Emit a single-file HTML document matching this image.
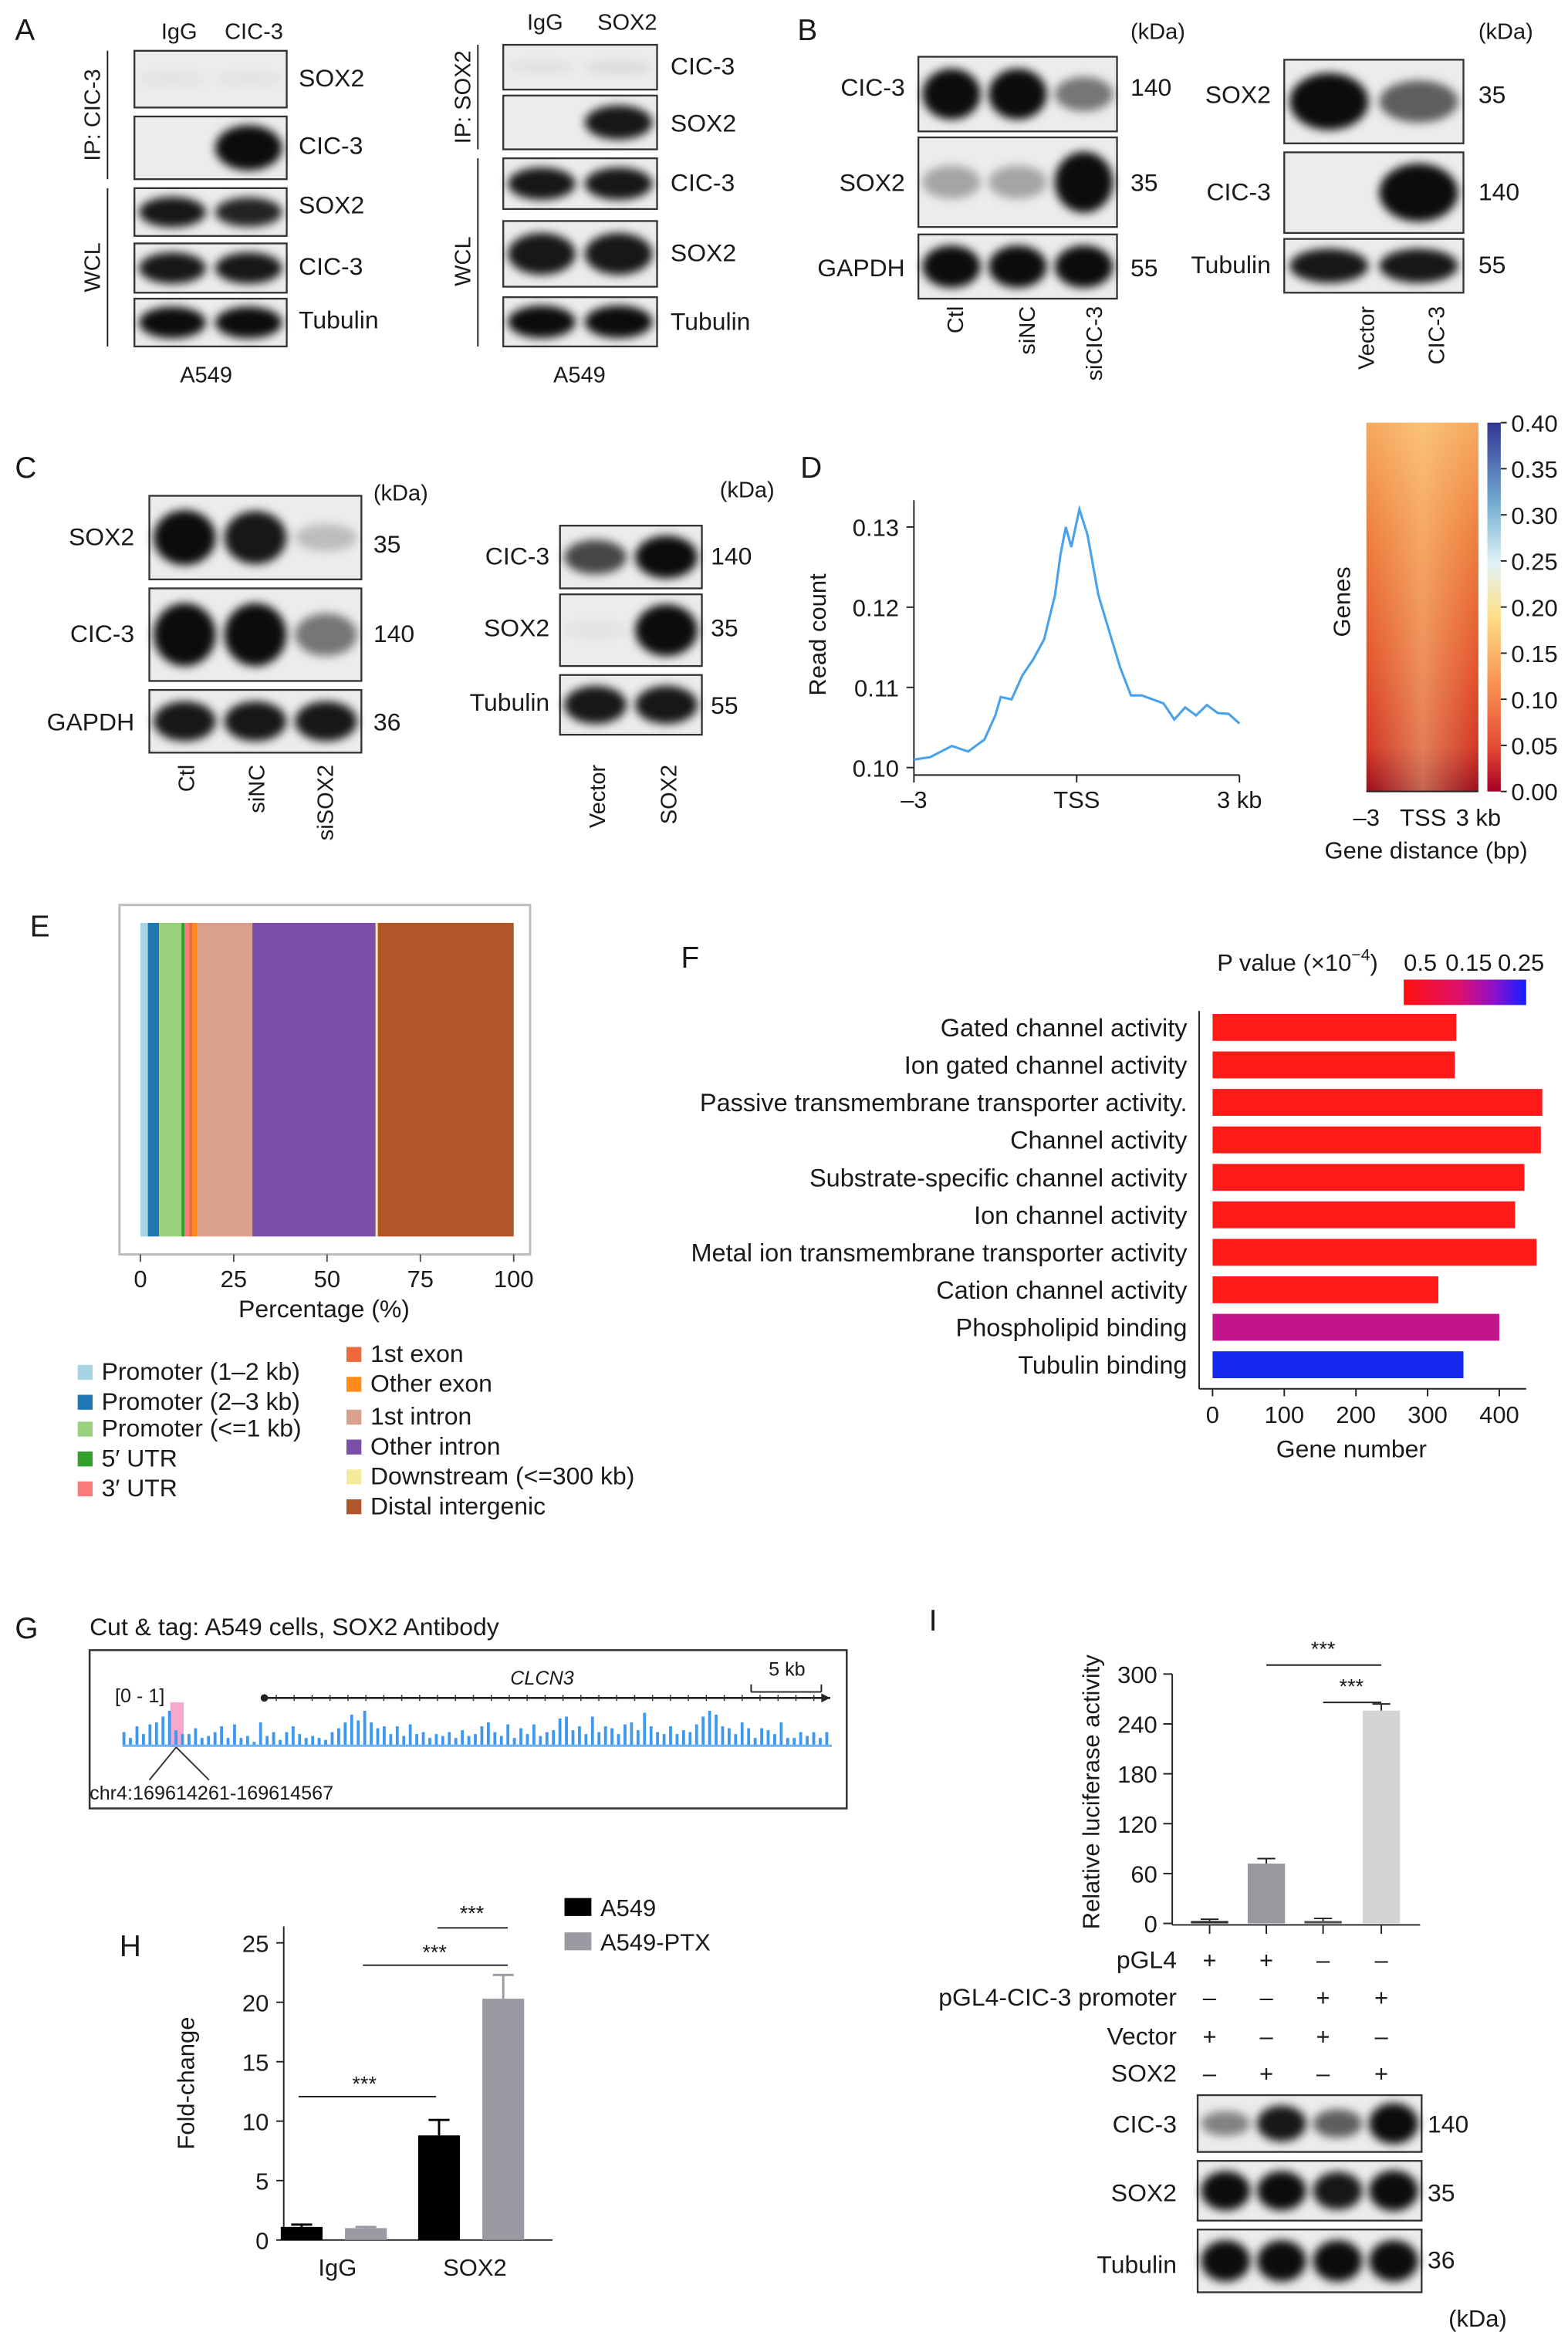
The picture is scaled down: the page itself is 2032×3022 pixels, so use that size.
<!DOCTYPE html>
<html><head><meta charset="utf-8">
<style>
html,body{margin:0;padding:0;background:#fff;}
svg{display:block;font-family:"Liberation Sans",Arial,sans-serif;}
text{fill:#1a1a1a;}
</style></head>
<body>
<svg id="fig" width="2032" height="3022" viewBox="0 0 1050 1561.6" xmlns="http://www.w3.org/2000/svg">
<defs>
<filter id="blur" x="-30%" y="-60%" width="160%" height="220%"><feGaussianBlur stdDeviation="3"/></filter>
<linearGradient id="hmV" x1="0" y1="0" x2="0" y2="1">
<stop offset="0" stop-color="#f6a85e"/><stop offset="0.3" stop-color="#ee7f3e"/><stop offset="0.65" stop-color="#e3562e"/><stop offset="0.88" stop-color="#d23826"/><stop offset="1" stop-color="#9a0c1c"/></linearGradient>
<linearGradient id="hmH" x1="0" y1="0" x2="1" y2="0">
<stop offset="0" stop-color="#ffe9a0" stop-opacity="0"/><stop offset="0.5" stop-color="#ffe9a0" stop-opacity="0.4"/><stop offset="1" stop-color="#ffe9a0" stop-opacity="0"/></linearGradient>
<linearGradient id="cbar" x1="0" y1="1" x2="0" y2="0">
<stop offset="0" stop-color="#a50026"/><stop offset="0.12" stop-color="#e34a33"/><stop offset="0.28" stop-color="#f98e52"/><stop offset="0.48" stop-color="#fee08b"/><stop offset="0.62" stop-color="#e0f3f8"/><stop offset="0.78" stop-color="#74add1"/><stop offset="1" stop-color="#313695"/></linearGradient>
<linearGradient id="pbar" x1="0" y1="0" x2="1" y2="0">
<stop offset="0" stop-color="#ff1010"/><stop offset="0.45" stop-color="#e0106a"/><stop offset="0.75" stop-color="#8a10d0"/><stop offset="1" stop-color="#1020ff"/></linearGradient>
</defs>
<g id="root"></g>
</svg>
<script>
// ---------- data ----------
const dX = [-3,-2.7,-2.3,-2.0,-1.7,-1.5,-1.4,-1.2,-1.0,-0.8,-0.6,-0.4,-0.3,-0.2,-0.1,0.05,0.2,0.4,0.6,0.8,1.0,1.2,1.4,1.6,1.8,2.0,2.2,2.4,2.6,2.8,3.0];
const dY = [0.101,0.1013,0.1027,0.102,0.1035,0.1065,0.1088,0.1085,0.1115,0.1135,0.116,0.1215,0.1265,0.130,0.1275,0.1322,0.129,0.1215,0.117,0.1125,0.109,0.109,0.1085,0.108,0.106,0.1075,0.1065,0.1078,0.1068,0.1067,0.1055];
const eCats = ['Promoter (1–2 kb)','Promoter (2–3 kb)','Promoter (<=1 kb)','5′ UTR','3′ UTR','1st exon','Other exon','1st intron','Other intron','Downstream (<=300 kb)','Distal intergenic'];
const ePct = [2,3,6,0.8,1.2,1,1.2,14.8,33,0.6,36.4];
const eColors = ['#a6d4e3','#1f78b4','#99d17e','#33a02c','#fb7a7a','#ef6a3a','#ff8c1a','#d9a08e','#7b4fa8','#f3eb9a','#b1562a'];
const fCats = ['Gated channel activity','Ion gated channel activity','Passive transmembrane transporter activity.','Channel activity','Substrate-specific channel activity','Ion channel activity','Metal ion transmembrane transporter activity','Cation channel activity','Phospholipid binding','Tubulin binding'];
const fVals = [340,338,460,458,435,422,452,315,400,350];
const fColors = ['#ff1a1a','#ff1a1a','#ff1a1a','#ff1a1a','#ff1a1a','#ff1a1a','#ff1a1a','#ff1a1a','#c4148c','#1428f0'];
const fTicks = [0,100,200,300,400];
const hGroups = ['IgG','SOX2'];
const hA549 = [1.1,8.8];
const hA549Err = [0.2,1.3];
const hPTX = [1.0,20.3];
const hPTXErr = [0.1,2.0];
const hTicks = [0,5,10,15,20,25];
const iVals = [3,72,3,256];
const iErr = [2,6,3,8];
const iTicks = [0,60,120,180,240,300];
const gSignal = [0.35,0.2,0.5,0.3,0.55,0.6,0.75,0.9,0.4,0.3,0.3,0.45,0.2,0.25,0.35,0.5,0.2,0.55,0.2,0.25,0.1,0.6,0.25,0.35,0.15,0.35,0.5,0.3,0.2,0.25,0.2,0.15,0.35,0.45,0.6,0.8,0.65,0.9,0.6,0.45,0.5,0.3,0.5,0.25,0.55,0.3,0.35,0.2,0.3,0.25,0.35,0.2,0.4,0.25,0.3,0.5,0.6,0.35,0.25,0.55,0.2,0.45,0.3,0.55,0.25,0.35,0.4,0.7,0.75,0.4,0.5,0.3,0.75,0.35,0.5,0.45,0.3,0.55,0.6,0.4,0.85,0.5,0.35,0.3,0.5,0.3,0.4,0.35,0.55,0.75,0.9,0.8,0.5,0.45,0.3,0.6,0.45,0.2,0.45,0.4,0.3,0.6,0.2,0.2,0.35,0.25,0.35,0.2,0.35];

// ---------- helpers ----------
const NS='http://www.w3.org/2000/svg';
const root=document.getElementById('root');
function mk(tag,attrs,parent){const e=document.createElementNS(NS,tag);for(const k in attrs)e.setAttribute(k,attrs[k]);(parent||root).appendChild(e);return e;}
function txt(x,y,s,size,anchor,extra){const e=mk('text',Object.assign({x:x,y:y,'font-size':size||16.5,'text-anchor':anchor||'start'},extra||{}));e.textContent=s;return e;}
function vtxt(x,y,s,size,anchor){const e=mk('text',{x:0,y:0,'font-size':size||16,'text-anchor':anchor||'middle',transform:'translate('+x+','+y+') rotate(-90)'});e.textContent=s;return e;}
function line(x1,y1,x2,y2,c,w){return mk('line',{x1:x1,y1:y1,x2:x2,y2:y2,stroke:c||'#222','stroke-width':w||1});}

function blot(x1,x2,rows,name){
  const g=mk('g',{});
  
  
  rows.forEach(r=>{
    const [y1,y2,ints]=r;
    mk('rect',{x:x1,y:y1,width:x2-x1,height:y2-y1,fill:'#ececec',stroke:'#333','stroke-width':1.2},g);
    const n=ints.length,lw=(x2-x1)/n,h=y2-y1;
    ints.forEach((v,i)=>{
      if(v<=0.02)return;
      const e=mk('ellipse',{cx:x1+lw*(i+0.5),cy:y1+h/2,rx:lw*0.44,ry:Math.min(h*0.36,h*(0.12+0.22*v)),fill:'#000','fill-opacity':Math.min(0.95,v),filter:'url(#blur)'},g);
      
      
    });
  });
}

// ---------- Panel A ----------
txt(10,27,'A',20);
txt(120,26,'IgG',15,'middle');txt(170,26,'CIC-3',15,'middle');
blot(90,192,[[34,72,[0.04,0.04]],[78,120,[0,1.4]],[126,158,[0.9,0.85]],[163,196,[0.9,0.9]],[200,232,[0.95,0.95]]],'blot-a-left');
[['SOX2',58],['CIC-3',103],['SOX2',143],['CIC-3',184],['Tubulin',220]].forEach(a=>txt(200,a[1],a[0]));
line(72,34,72,120);vtxt(67,77,'IP: CIC-3',15);
line(72,126,72,232);vtxt(67,179,'WCL',15);
txt(138,256,'A549',15,'middle');
txt(365,20,'IgG',15,'middle');txt(420,20,'SOX2',15,'middle');
blot(337,440,[[30,60,[0.05,0.08]],[64,100,[0,0.9]],[106,140,[0.9,0.9]],[148,192,[0.9,0.9]],[199,232,[0.95,0.95]]],'blot-a-right');
[['CIC-3',50],['SOX2',88],['CIC-3',128],['SOX2',175],['Tubulin',221]].forEach(a=>txt(449,a[1],a[0]));
line(320,30,320,100);vtxt(315,65,'IP: SOX2',15);
line(320,106,320,232);vtxt(315,175,'WCL',15);
txt(388,256,'A549',15,'middle');

// ---------- Panel B ----------
txt(534,27,'B',20);
txt(757,26,'(kDa)',15);
blot(615,748,[[38,88,[1,1,0.5]],[92,152,[0.3,0.3,1]],[157,200,[0.95,0.95,0.95]]],'blot-b-left');
[['CIC-3',64],['SOX2',128],['GAPDH',185]].forEach(a=>txt(606,a[1],a[0],16.5,'end'));
[['140',64],['35',128],['55',185]].forEach(a=>txt(757,a[1],a[0]));
[['Ctl',645],['siNC',693],['siCIC-3',738]].forEach(a=>vtxt(a[1],205,a[0],15,'end'));
txt(990,26,'(kDa)',15);
blot(860,980,[[40,96,[1,0.6]],[102,156,[0,1.1]],[160,196,[0.9,0.9]]],'blot-b-right');
[['SOX2',69],['CIC-3',134],['Tubulin',183]].forEach(a=>txt(851,a[1],a[0],16.5,'end'));
[['35',69],['140',134],['55',183]].forEach(a=>txt(990,a[1],a[0]));
[['Vector',920],['CIC-3',967]].forEach(a=>vtxt(a[1],205,a[0],15,'end'));

// ---------- Panel C ----------
txt(10,320,'C',20);
txt(250,335,'(kDa)',15);
blot(100,242,[[332,388,[0.95,0.9,0.2]],[394,456,[1,1,0.5]],[462,504,[0.9,0.9,0.9]]],'blot-c-left');
[['SOX2',365],['CIC-3',430],['GAPDH',489]].forEach(a=>txt(90,a[1],a[0],16.5,'end'));
[['35',370],['140',430],['36',489]].forEach(a=>txt(250,a[1],a[0]));
[['Ctl',130],['siNC',177],['siSOX2',223]].forEach(a=>vtxt(a[1],512,a[0],15,'end'));
txt(482,333,'(kDa)',15);
blot(375,470,[[352,394,[0.7,1]],[398,446,[0.04,1.2]],[452,492,[0.9,0.9]]],'blot-c-right');
[['CIC-3',378],['SOX2',426],['Tubulin',476]].forEach(a=>txt(368,a[1],a[0],16.5,'end'));
[['140',378],['35',426],['55',478]].forEach(a=>txt(476,a[1],a[0]));
[['Vector',405],['SOX2',453]].forEach(a=>vtxt(a[1],512,a[0],15,'end'));

// ---------- Panel D line ----------
txt(536,320,'D',20);
const dx=v=>612+(v+3)/6*218, dy=v=>514-(v-0.10)/0.01*53.7;
line(612,335,612,519);line(612,519,830,519);
[0.10,0.11,0.12,0.13].forEach(t=>{line(607,dy(t),612,dy(t));txt(602,dy(t)+6,t.toFixed(2),16,'end');});
[[-3,'–3'],[0,'TSS'],[3,'3 kb']].forEach(t=>{line(dx(t[0]),519,dx(t[0]),524);txt(dx(t[0]),541,t[1],16,'middle');});
vtxt(553,425,'Read count',16);
const dl=mk('polyline',{points:dX.map((x,i)=>dx(x)+','+dy(dY[i])).join(' '),fill:'none',stroke:'#4aa3ea','stroke-width':1.6});


// heatmap
mk('rect',{x:915,y:283,width:75,height:247,fill:'url(#hmV)'});
mk('rect',{x:915,y:283,width:75,height:247,fill:'url(#hmH)'});
line(915,530,990,530);
[['–3',915],['TSS',953],['3 kb',990]].forEach(t=>txt(t[1],553,t[0],16,'middle'));
txt(955,575,'Gene distance (bp)',16,'middle');
vtxt(904,403,'Genes',16);
mk('rect',{x:996,y:283,width:9,height:247,fill:'url(#cbar)'});
[0,0.05,0.10,0.15,0.20,0.25,0.30,0.35,0.40].forEach(t=>{const y=530-t/0.4*247;line(1005,y,1009,y);txt(1012,y+6,t.toFixed(2),16);});

// ---------- Panel E ----------
txt(20,627,'E',20);
mk('rect',{x:80,y:606,width:275,height:234,fill:'#fff',stroke:'#bbb','stroke-width':1.5});
const ex=p=>94+p*2.5;
let acc=0;
ePct.forEach((p,i)=>{const r=mk('rect',{x:ex(acc),y:618,width:p*2.5,height:210,fill:eColors[i]});
  
  
  acc+=p;});
[0,25,50,75,100].forEach(t=>{line(ex(t),840,ex(t),845,'#555');txt(ex(t),862,String(t),16,'middle');});
txt(217,882,'Percentage (%)',16.5,'middle');
const leg1=[[0,924],[1,944],[2,962],[3,982],[4,1002]],leg2=[[5,912],[6,932],[7,954],[8,974],[9,994],[10,1014]];
leg1.forEach(l=>{mk('rect',{x:52,y:l[1]-10,width:10,height:10,fill:eColors[l[0]]});txt(68,l[1],eCats[l[0]]);});
leg2.forEach(l=>{mk('rect',{x:232,y:l[1]-10,width:10,height:10,fill:eColors[l[0]]});txt(248,l[1],eCats[l[0]]);});

// ---------- Panel F ----------
txt(456,648,'F',20);
const pv=txt(815,650,'P value (×10',16);
const sup=mk('tspan',{'font-size':11,dy:-7});sup.textContent='−4';pv.appendChild(sup);
const cl=mk('tspan',{dy:7});cl.textContent=')';pv.appendChild(cl);
txt(940,650,'0.5',16);txt(968,650,'0.15',16);txt(1003,650,'0.25',16);
mk('rect',{x:940,y:656,width:82,height:17,fill:'url(#pbar)'});
const fx=v=>812+v*0.48, fy=i=>688+i*25.1;
line(803,677,803,930);line(803,930,1022,930);
fTicks.forEach(t=>{line(fx(t),930,fx(t),935);txt(fx(t),953,String(t),16,'middle');});
txt(905,976,'Gene number',16.5,'middle');
fCats.forEach((c,i)=>{const b=mk('rect',{x:fx(0),y:fy(i)-9,width:fVals[i]*0.48,height:18,fill:fColors[i]});
  
  
  txt(795,fy(i)+6,c,16.8,'end');});

// ---------- Panel G ----------
txt(10,1097,'G',20);
txt(60,1095,'Cut & tag: A549 cells, SOX2 Antibody',16.5);
mk('rect',{x:60,y:1105,width:507,height:106,fill:'none',stroke:'#333','stroke-width':1.3});
txt(77,1140,'[0 - 1]',13);
txt(363,1128,'CLCN3',13,'middle',{'font-style':'italic'});
line(503,1133,550,1133);line(503,1128,503,1133);line(550,1128,550,1133);txt(527,1122,'5 kb',13,'middle');
line(176,1137,556,1137,'#222',1.3);
for(let x=185;x<550;x+=12){line(x,1135,x,1139,'#333',0.8);}
mk('circle',{cx:177,cy:1137,r:2.5,fill:'#222'});mk('polygon',{points:'556,1137 550,1134 550,1140',fill:'#222'});
mk('rect',{x:114,y:1140,width:9,height:30,fill:'#f7a8d0'});
const gx0=82,gx1=557,gw=(gx1-gx0)/gSignal.length;
gSignal.forEach((v,i)=>{const h=v*26;const r=mk('rect',{x:gx0+i*gw,y:1169-h,width:gw*0.45,height:h,fill:'#3d98f0'});
  
  });
line(82,1169,557,1169,'#6bb3f5',1.5);
line(118,1170,100,1192,'#333');line(118,1170,140,1192,'#333');
txt(60,1205,'chr4:169614261-169614567',13);

// ---------- Panel H ----------
txt(80,1310,'H',20);
const hy=v=>1500-v*7.96;
line(190,1290,190,1500);line(190,1500,370,1500);
hTicks.forEach(t=>{line(185,hy(t),190,hy(t));txt(180,hy(t)+6,String(t),16,'end');});
vtxt(130,1395,'Fold-change',16);
const hCenters=[226,318];
hGroups.forEach((g,i)=>{
  const xa=hCenters[i]-38,xp=hCenters[i]+5;
  const a=mk('rect',{x:xa,y:hy(hA549[i]),width:28,height:hA549[i]*7.96,fill:'#000'});
  
  
  line(xa+14,hy(hA549[i]),xa+14,hy(hA549[i]+hA549Err[i]),'#000',1.5);line(xa+7,hy(hA549[i]+hA549Err[i]),xa+21,hy(hA549[i]+hA549Err[i]),'#000',1.5);
  const p=mk('rect',{x:xp,y:hy(hPTX[i]),width:28,height:hPTX[i]*7.96,fill:'#9a9aa2'});
  
  
  line(xp+14,hy(hPTX[i]),xp+14,hy(hPTX[i]+hPTXErr[i]),'#9a9aa2',1.5);line(xp+7,hy(hPTX[i]+hPTXErr[i]),xp+21,hy(hPTX[i]+hPTXErr[i]),'#9a9aa2',1.5);
  txt(hCenters[i],1524,g,16,'middle');
});
line(200,1404,292,1404);txt(244,1400,'***',14,'middle');
line(243,1316,340,1316);txt(291,1312,'***',14,'middle');
line(293,1291,340,1291);txt(316,1286,'***',14,'middle');
mk('rect',{x:378,y:1271,width:18,height:12,fill:'#000'});txt(402,1283,'A549',16);
mk('rect',{x:378,y:1294,width:18,height:12,fill:'#9a9aa2'});txt(402,1306,'A549-PTX',16);

// ---------- Panel I ----------
txt(622,1092,'I',20);
const iy=v=>1288-v*167/300, iLanes=[810,848,886,925];
const iColors=['#333','#98989f','#555','#d4d4d6'];
line(785,1121,785,1289);line(785,1289,951,1289);
iTicks.forEach(t=>{line(779,iy(t),785,iy(t));txt(775,iy(t)+6,String(t),16,'end');});
vtxt(736,1200,'Relative luciferase activity',16);
iVals.forEach((v,i)=>{const b=mk('rect',{x:iLanes[i]-12.5,y:iy(v),width:25,height:v*167/300,fill:iColors[i]});
  
  
  line(iLanes[i],iy(v),iLanes[i],iy(v+iErr[i]));line(iLanes[i]-6,iy(v+iErr[i]),iLanes[i]+6,iy(v+iErr[i]));
  line(iLanes[i],1289,iLanes[i],1295);});
line(848,1115,925,1115);txt(886,1109,'***',14,'middle');
line(886,1140,925,1140);txt(905,1134,'***',14,'middle');
const iRows=[['pGL4',1318,['+','+','–','–']],['pGL4-CIC-3 promoter',1343,['–','–','+','+']],['Vector',1369,['+','–','+','–']],['SOX2',1394,['–','+','–','+']]];
iRows.forEach(r=>{txt(788,r[1],r[0],16.5,'end');r[2].forEach((s,i)=>txt(iLanes[i],r[1],s,16,'middle'));});
blot(802,952,[[1403,1441,[0.45,0.9,0.6,1.1]],[1447,1487,[0.95,0.95,0.9,1]],[1493,1535,[0.95,0.95,0.95,0.95]]],'blot-i');
[['CIC-3',1428],['SOX2',1474],['Tubulin',1522]].forEach(a=>txt(788,a[1],a[0],16.5,'end'));
[['140',1428],['35',1474],['36',1519]].forEach(a=>txt(956,a[1],a[0]));
txt(970,1558,'(kDa)',16);
</script>
</body></html>
